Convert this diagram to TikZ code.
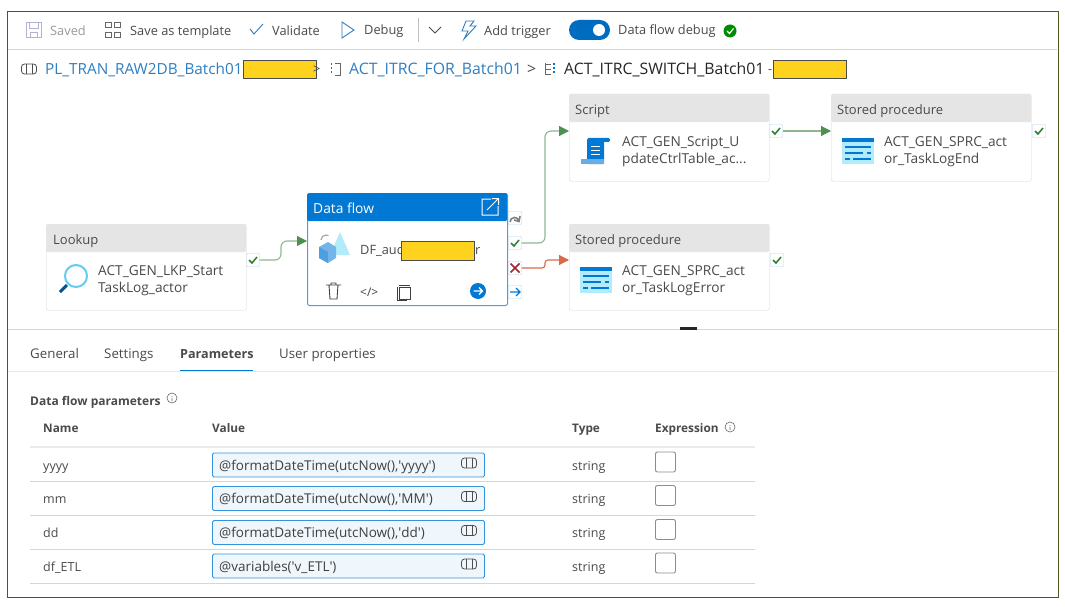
\documentclass[tikz,border=0pt]{standalone}
\usepackage{fontspec}
\setmainfont{Open Sans}
\usetikzlibrary{arrows.meta}

\definecolor{framecol}{HTML}{4B5A1E}
\definecolor{azure}{HTML}{0078D4}
\definecolor{linkblue}{HTML}{2F7FC1}
\definecolor{headgrey}{HTML}{E5E5E5}
\definecolor{okgreen}{HTML}{2E7D32}
\definecolor{okline}{HTML}{8DB88F}
\definecolor{badred}{HTML}{A4262C}
\definecolor{redline}{HTML}{D9694A}
\definecolor{txt}{HTML}{4A4A4A}
\definecolor{hide}{HTML}{FFD21E}
\definecolor{rule}{HTML}{D6D6D6}
\definecolor{fieldbg}{HTML}{EFF6FC}
\definecolor{skyblue}{HTML}{7FE0F7}

\tikzset{
    lbl/.style={anchor=base west, yshift=-5pt, inner sep=0pt, text=txt, font=\fontsize{12.8}{15}\selectfont},
    tablbl/.style={lbl, font=\fontsize{13.3}{15}\selectfont},
    rowlbl/.style={lbl, font=\fontsize{12.5}{15}\selectfont},
    vallbl/.style={lbl, text=black!75, font=\fontsize{13.5}{15}\selectfont},
    collbl/.style={lbl, font=\fontsize{11.8}{14}\selectfont\bfseries},
    crumb/.style={lbl, yshift=-1pt, font=\fontsize{15.8}{18}\selectfont},
    actbox/.style={draw=rule, fill=white, rounded corners=1.5pt, anchor=north west,
        minimum width=200pt, inner sep=0pt},
    acthead/.style={fill=headgrey, rounded corners=1.5pt, anchor=north west,
        minimum width=200pt, minimum height=28pt, inner sep=0pt},
    headtxt/.style={lbl, yshift=-.5pt, font=\fontsize{13}{16}\selectfont},
    acttxt/.style={lbl, anchor=west, yshift=3pt, align=left, font=\fontsize{13.7}{17}\selectfont},
    badge/.style={draw=azure!30, fill=white, rounded corners=1pt, minimum size=13pt, inner sep=0pt},
    hidebox/.style={draw=black!70, fill=hide, anchor=north west, minimum width=73pt,
        minimum height=18pt, inner sep=0pt},
    valbox/.style={draw=azure!80, line width=.9pt, fill=fieldbg, rounded corners=1.5pt, anchor=west,
        minimum width=272pt, minimum height=24pt, inner sep=0pt},
    chkbox/.style={draw=black!45, line width=.9pt, rounded corners=2pt, anchor=west,
        minimum size=20pt, inner sep=0pt},
    flow/.style={line width=1.1pt, rounded corners=6pt},
    flowgreen/.style={flow, okline, -{Triangle[length=10pt,width=10pt,fill=okgreen!85,color=okgreen!85]}},
    flowred/.style={flow, redline, rounded corners=3pt, -{Triangle[length=10pt,width=10pt]}},
    pics/tickmark/.style={code={\draw[okgreen, line width=1.5pt] (-4,0) -- (-1,3) -- (4,-3);}},
    pics/paramicon/.style={code={
        \draw[black!70, line width=.8pt, rounded corners=3pt] (-7.5,-5) rectangle (7.5,5);
        \draw[black!70, line width=.8pt] (-3,-5) -- (-3,5) (3,-5) -- (3,5);}},
    pics/sprocicon/.style={code={
        \fill[skyblue!60] (-16,-13) rectangle (16,13);
        \fill[azure] (-16,-13) rectangle (16,-9);
        \draw[azure, line width=1.2pt] (-13,-4) -- (13,-4) (-13,2) -- (5,2) (9,2) -- (13,2)
            (-13,8) -- (-8,8) (-5,8) -- (13,8);}}
}

\begin{document}
\begin{tikzpicture}[x=1pt, y=-1pt]
    \useasboundingbox (0,0) rectangle (1065,607);
    \fill[white] (0,0) rectangle (1065,607);
    \draw[framecol, line width=1pt] (7.5,11.5) rectangle (1058,597);

    % toolbar
    \draw[rule, line width=1pt] (8,50) -- (1057,50);
    \draw[black!60!blue!30, line width=.8pt] (26,22) rectangle (41,37) (29,22) rectangle (38,28) (30,32) rectangle (37,37);
    \node[lbl, text=black!40] (saved) at (50,31) {Saved};
    \draw[black!60, line width=.8pt] (105,22) rectangle (111,27) (114,22) rectangle (120,27)
        (105,32) rectangle (111,37) (114,32) rectangle (120,37);
    \node[lbl] (template) at (130,31) {Save as template};
    \draw[linkblue, line width=.9pt] (250,29) -- (254,34) -- (263,24);
    \node[lbl] (validate) at (272,31) {Validate};
    \draw[linkblue, line width=.9pt] (342,22) -- (354,30) -- (342,38) -- cycle;
    \node[lbl] (debug) at (364,30) {Debug};
    \draw[black!25, line width=.8pt] (418,18) -- (418,42);
    \draw[black!70, line width=.9pt] (429,27) -- (435,33) -- (441,27);
    \draw[linkblue, line width=.9pt] (466,21) -- (462,31) -- (468,31) -- (464,39) -- (476,26) -- (470,26) -- (474,21) -- cycle;
    \node[lbl] (trigger) at (484,31) {Add trigger};
    \fill[azure!90!black, rounded corners=10pt] (569,20) rectangle (610,40);
    \fill[white] (599,30) circle[radius=6];
    \node[lbl] (dfdebug) at (618,30) {Data flow debug};
    \fill[green!55!black] (730,31) circle[radius=6.5];
    \draw[white, line width=1.2pt] (727,31) -- (729.5,33.5) -- (733.5,28.5);

    % breadcrumb
    \pic at (29,69) {paramicon};
    \node[crumb, text=linkblue, font=\fontsize{15.3}{18}\selectfont] (plname) at (45,69) {PL\_TRAN\_RAW2DB\_Batch01};
    \node[hidebox] (plhide) at (243,60) {};
    \node[lbl, text=black!70] (sepone) at (313,69) {>};
    \draw[azure, line width=1pt, dash pattern=on 2pt off 2pt] (331,63) -- (331,75);
    \draw[black!60, line width=.8pt] (335,63) -- (340,63) -- (340,75) -- (335,75);
    \node[crumb, text=linkblue] (forname) at (349,69) {ACT\_ITRC\_FOR\_Batch01};
    \node[crumb] (septwo) at (527,69) {>};
    \draw[black!60, line width=.8pt] (545,63) -- (545,75) (545,64) -- (551,64) (545,69) -- (551,69) (545,74) -- (551,74);
    \draw[azure, line width=2pt, dash pattern=on 2pt off 2pt] (554,63) -- (554,75);
    \node[crumb, text=black!85] (switchname) at (564,69) {ACT\_ITRC\_SWITCH\_Batch01};
    \node[lbl] (septhree) at (768,69) {-};
    \node[hidebox] (switchhide) at (773,60) {};

    % activities
    \node[actbox, minimum height=86pt] (lookup) at (46,224) {};
    \node[acthead] (lookuphead) at (lookup.north west) {};
    \node[headtxt] (lookuptitle) at (53,239) {Lookup};
    \node[acttxt] (lookuptxt) at (98,279) {ACT\_GEN\_LKP\_Start\\TaskLog\_actor};
    \draw[skyblue!80!azure, line width=2pt] (76,276) circle[radius=11];
    \draw[azure!70!black, line width=3pt] (67,285) -- (60,292);

    \node[actbox, draw=azure!70, line width=1pt, minimum height=112pt] (dataflow) at (307,193) {};
    \node[acthead, fill=azure, minimum height=28pt] (dataflowhead) at (dataflow.north west) {};
    \node[headtxt, text=white, font=\fontsize{13.8}{16}\selectfont] (dataflowtitle) at (313,208) {Data flow};
    \draw[white, line width=1pt] (491,199) -- (482,199) -- (482,215) -- (498,215) -- (498,206)
        (487,210) -- (498,199) (492,198.5) -- (498.5,198.5) -- (498.5,205);
    \fill[skyblue!60] (340,232) -- (350,255) -- (330,255) -- cycle;
    \fill[azure!55] (319,247) -- (328,242) -- (336,247) -- (336,258) -- (328,263) -- (319,258) -- cycle;
    \fill[azure!70] (319,247) -- (328,252) -- (328,263) -- (319,258) -- cycle;
    \draw[black!35, line width=1.2pt] (321,240) arc[start angle=180, end angle=300, radius=5];
    \node[lbl] (dataflowtxt) at (360,249) {DF\_aud};
    \node[lbl] (dataflowend) at (475,249) {r};
    \node[hidebox, minimum height=19pt] (dataflowhide) at (401,241) {};
    \draw[black!75, line width=.9pt] (326,285) -- (341,285) (329,285) -- (330,299) -- (337,299) -- (338,285)
        (331,285) -- (331,283) -- (336,283) -- (336,285);
    \node[lbl, font=\fontsize{12}{13}\selectfont, text=black!75] (dataflowcode) at (360,291) {</>};
    \draw[black!75, line width=.9pt] (399,287) rectangle (410,299) (397,287) -- (397,300) -- (407,300)
        (399,285) -- (410,285);
    \fill[azure] (478,291) circle[radius=8];
    \draw[white, line width=1.1pt] (473.5,291) -- (482.5,291) (479,287.5) -- (482.5,291) -- (479,294.5);

    \node[actbox, minimum height=87pt] (script) at (569,94) {};
    \node[acthead] (scripthead) at (script.north west) {};
    \node[headtxt] (scripttitle) at (575,109) {Script};
    \node[acttxt] (scripttxt) at (622,150) {ACT\_GEN\_Script\_U\\pdateCtrlTable\_ac...};
    \fill[azure, rounded corners=1.5pt] (587,138) rectangle (610,142) (587,138) rectangle (604,164);
    \fill[azure!60] (581,159) rectangle (604,164);
    \draw[white, line width=.7pt] (591,146) -- (600,146) (591,150) -- (600,150) (591,154) -- (600,154);

    \node[actbox, minimum height=87pt] (procend) at (831,94) {};
    \node[acthead] (procendhead) at (procend.north west) {};
    \node[headtxt] (procendtitle) at (837,109) {Stored procedure};
    \node[acttxt] (procendtxt) at (884,150) {ACT\_GEN\_SPRC\_act\\or\_TaskLogEnd};
    \pic at (858,151) {sprocicon};

    \node[actbox, minimum height=86pt] (procerr) at (569,224) {};
    \node[acthead] (procerrhead) at (procerr.north west) {};
    \node[headtxt] (procerrtitle) at (575,239) {Stored procedure};
    \node[acttxt] (procerrtxt) at (622,279) {ACT\_GEN\_SPRC\_act\\or\_TaskLogError};
    \pic at (596,280) {sprocicon};

    % status badges
    \node[badge] (lookupok) at (253,260) {};
    \pic at (253,260) {tickmark};
    \node[badge] (dfskip) at (515,218) {};
    \draw[black!50, line width=1.6pt] (510,222) arc[start angle=180, end angle=340, radius=4.5] (520,216) -- (519,221.5) -- (514,220);
    \node[badge] (dfok) at (515,243) {};
    \pic at (515,243) {tickmark};
    \node[badge] (dffail) at (515,268) {};
    \draw[badred, line width=1.7pt] (510.5,263.5) -- (519.5,272.5) (519.5,263.5) -- (510.5,272.5);
    \node[badge] (dfdone) at (515,292) {};
    \draw[azure, line width=1.1pt] (510,292) -- (520,292) (516,288) -- (520,292) -- (516,296);
    \node[badge] (scriptok) at (776,131) {};
    \pic at (776,131) {tickmark};
    \node[badge] (procendok) at (1039,131) {};
    \pic at (1039,131) {tickmark};
    \node[badge] (procerrok) at (777,260) {};
    \pic at (777,260) {tickmark};

    % dependency arrows
    \coordinate (dataflowin) at (307,241);
    \coordinate (scriptin) at (569,131);
    \coordinate (procendin) at (831,131);
    \coordinate (procerrin) at (569,260);
    \draw[flowgreen] (lookupok.east) -- (281,260) -- (281,241) -- (dataflowin);
    \draw[flowgreen] (dfok.east) -- (545,243) -- (545,131) -- (scriptin);
    \draw[flowgreen] (scriptok.east) -- (procendin);
    \draw[flowred] (dffail.east) -- (545,268) -- (545,260) -- (procerrin);

    % properties pane
    \draw[rule, line width=1pt] (8,329) -- (1057,329);
    \fill[black!85] (680,327) rectangle (697,329.5);
    \node[tablbl] (tabgeneral) at (30,353) {General};
    \node[tablbl] (tabsettings) at (104,353) {Settings};
    \node[lbl, font=\fontsize{12.6}{15}\selectfont\bfseries] (tabparams) at (180,353) {Parameters};
    \node[tablbl] (tabuser) at (279,353) {User properties};
    \draw[rule!60, line width=1pt] (8,371) -- (1057,371);
    \draw[azure, line width=1.4pt] (180,370.5) -- (253,370.5);

    \node[collbl, font=\fontsize{12}{14}\selectfont\bfseries] (paramtitle) at (30,400) {Data flow parameters};
    \draw[black!60, line width=.6pt] (172,398) circle[radius=5] (172,396) -- (172,396.8) (172,397.8) -- (172,401);
    \node[collbl] (colname) at (43,427) {Name};
    \node[collbl] (colvalue) at (212,427) {Value};
    \node[collbl] (coltype) at (572,427) {Type};
    \node[collbl] (colexpr) at (655,427) {Expression};
    \draw[black!60, line width=.6pt] (730,427) circle[radius=5] (730,425) -- (730,425.8) (730,426.8) -- (730,430);
    \draw[black!8, line width=1.6pt] (30,447) -- (755,447);

    \foreach \i/\y/\r/\pname/\pval in {1/465/481/yyyy/@formatDateTime(utcNow(){,}\textquotesingle yyyy\textquotesingle),
                                       2/498.5/515/mm/@formatDateTime(utcNow(){,}\textquotesingle MM\textquotesingle),
                                       3/532.5/549/dd/@formatDateTime(utcNow(){,}\textquotesingle dd\textquotesingle),
                                       4/566/583/df\_ETL/@variables(\textquotesingle v\_ETL\textquotesingle)} {
        \node[rowlbl] (pname\i) at (43,\y) {\pname};
        \node[valbox] (pval\i) at (212,\y) {};
        \node[vallbl] (ptxt\i) at (219,\y) {\pval};
        \pic at (469,\y-2) {paramicon};
        \node[rowlbl] (ptype\i) at (572,\y) {string};
        \node[chkbox] (pchk\i) at (655,\y-3) {};
        \draw[rule, line width=.9pt] (30,\r) -- (755,\r);
    }
\end{tikzpicture}
\end{document}
